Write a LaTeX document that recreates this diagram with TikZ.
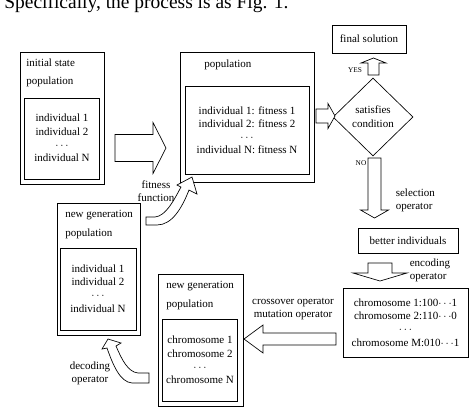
\documentclass[tikz,border=0pt]{standalone}
\usepackage{fontspec}
\setmainfont{Liberation Serif}
\usetikzlibrary{shapes.geometric}

\tikzset{
  box/.style={draw, rectangle, inner sep=0pt},
  lst/.style={align=center, font=\fontsize{8.25}{9.9}\selectfont},
  tag/.style={font=\fontsize{5.5}{6}\selectfont},
  blk/.style={draw, fill=white, line width=0.5pt},
}

% straight block arrows: tail, head base, tip, middle, half shaft, half head
\newcommand{\hblock}[6]{%
  \draw[blk] (#1,#4-#5) -- (#2,#4-#5) -- (#2,#4-#6) -- (#3,#4)
    -- (#2,#4+#6) -- (#2,#4+#5) -- (#1,#4+#5) -- cycle;}
\newcommand{\vblock}[6]{%
  \draw[blk] (#1-#5,#2) -- (#1-#5,#3) -- (#1-#6,#3) -- (#1,#4)
    -- (#1+#6,#3) -- (#1+#5,#3) -- (#1+#5,#2) -- cycle;}

\begin{document}
\begin{tikzpicture}[x=0.75pt, y=-0.75pt, line width=0.5pt,
    font=\fontsize{8.25}{9.9}\selectfont]
    \useasboundingbox (0,0) rectangle (474,408);

    % Heading line (cut by the page edge)
    \node[anchor=base west, inner sep=0pt, font=\fontsize{14.6}{16}\selectfont] (head) at (4,8)
        {Specifically, the process is as Fig. 1.};

    % Initial population
    \draw (20,52) rectangle (104,184);
    \draw (24,98) rectangle (99,179);
    \node[anchor=west, inner sep=0pt] (initA) at (26,63) {initial state};
    \node[anchor=west, inner sep=0pt] (initB) at (26,82) {population};
    \node[lst] (initL) at (62,138) {individual 1\\individual 2\\$\cdots$\\individual N};

    % Evaluated population
    \draw (180,52) rectangle (314,182);
    \draw (185,86) rectangle (309,174);
    \node[anchor=west, inner sep=0pt] (popA) at (204,65) {population};
    \node[lst] (popL) at (247,130)
        {individual 1: fitness 1\\individual 2: fitness 2\\$\cdots$\\individual N: fitness N};

    % Decision
    \node[draw, diamond, aspect=1, inner sep=0pt, minimum width=60pt, minimum height=58.5pt,
        align=center, font=\fontsize{8.25}{10.5}\selectfont] (cond) at (373,117)
        {satisfies\\condition};
    \node[box, minimum width=55.5pt, minimum height=21pt] (final) at (369,39) {final solution};
    \node[box, minimum width=75pt, minimum height=18.75pt] (better) at (408,240.5) {better individuals};

    % Encoded population
    \node[box, minimum width=93.75pt, minimum height=51.75pt, lst] (chrom) at (405.5,322.5)
        {chromosome 1:100$\cdots$1\\chromosome 2:110$\cdots$0\\$\cdots$\\chromosome M:010$\cdots$1};

    % New generation (chromosomes)
    \draw (158,274) rectangle (243,406);
    \draw (162,319) rectangle (237,401);
    \node[anchor=west, inner sep=0pt] (chA) at (166,286) {new generation};
    \node[anchor=west, inner sep=0pt] (chB) at (166,305) {population};
    \node[lst] (chL) at (200,360) {chromosome 1\\chromosome 2\\$\cdots$\\chromosome N};

    % New generation (individuals)
    \draw (57,203) rectangle (140,335);
    \draw (60,248) rectangle (136,330);
    \node[anchor=west, inner sep=0pt] (ngA) at (65,215) {new generation};
    \node[anchor=west, inner sep=0pt] (ngB) at (65,234) {population};
    \node[lst] (ngL) at (98,288.5) {individual 1\\individual 2\\$\cdots$\\individual N};

    % Block arrows
    \hblock{115}{153}{166}{148}{13.5}{25.5}
    \hblock{316}{328}{335}{116}{7}{12.5}
    \vblock{373.5}{75}{63}{58}{5.5}{12.5}
    \vblock{374.5}{158}{210}{218}{6.5}{14}
    \vblock{380}{263}{273}{281}{12}{27}
    \hblock{336}{263}{244}{339}{6}{14}

    % Curved arrows
    \draw[blk] (146,217) -- (155,217) .. controls (166,216) and (174,200) .. (181,187)
        -- (177,185) -- (192,177) -- (197,194) -- (189,190)
        .. controls (182,208) and (172,225) .. (157,225) -- (146,225) -- cycle;
    \draw[blk] (149,373) -- (138,373) .. controls (128,372) and (122,360) .. (116,346)
        -- (121,343) -- (108,339) -- (102,349) -- (107,348)
        .. controls (113,365) and (120,382) .. (132,383) -- (149,383) -- cycle;

    % Arrow labels
    \node[tag] (yes) at (355,70) {YES};
    \node[tag] (no) at (361,163) {NO};
    \node[lst, align=left, anchor=west] (sel) at (391,200) {selection\\operator};
    \node[lst, align=left, anchor=west] (enc) at (405,270.5) {encoding\\operator};
    \node[lst] (cross) at (293,309) {crossover operator\\mutation operator};
    \node[lst] (fit) at (156,191) {fitness\\function};
    \node[lst] (dec) at (90,373.5) {decoding\\operator};
\end{tikzpicture}
\end{document}
